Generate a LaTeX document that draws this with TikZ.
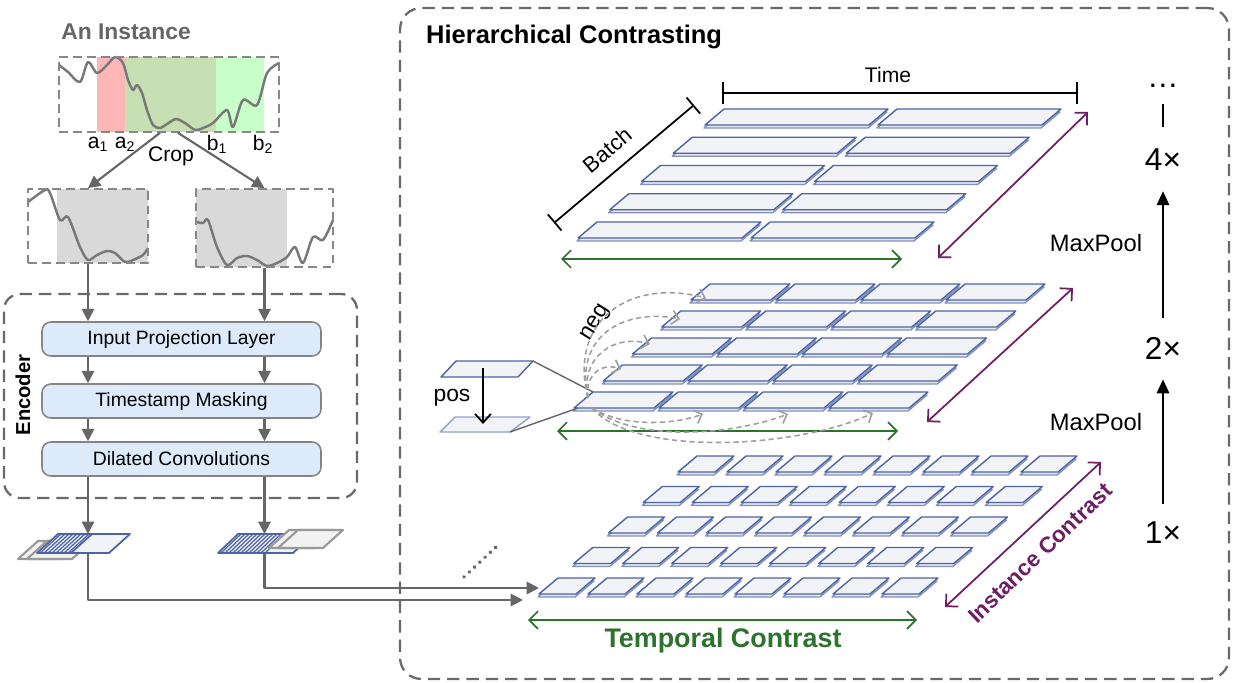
\documentclass[tikz,border=0pt]{standalone}
\usepackage{fontspec}
\setmainfont{Liberation Sans}
\usetikzlibrary{arrows.meta}

\definecolor{linegray}{RGB}{102,102,102}
\definecolor{dashgray}{RGB}{105,105,105}
\definecolor{boxblue}{RGB}{220,234,250}
\definecolor{tileblue}{RGB}{76,100,165}
\definecolor{tilefill}{RGB}{242,243,246}
\definecolor{tileshade}{RGB}{228,230,236}
\definecolor{tgreen}{RGB}{45,115,45}
\definecolor{ipurple}{RGB}{110,30,100}
\definecolor{cropred}{RGB}{255,182,182}
\definecolor{cropboth}{RGB}{198,224,180}
\definecolor{cropgreen}{RGB}{200,255,200}
\definecolor{cropgray}{RGB}{217,217,217}
\definecolor{curvegray}{RGB}{120,120,120}

\tikzset{
  dashbox/.style={draw=dashgray, line width=1.3pt, dash pattern=on 7pt off 4pt, rounded corners=9pt},
  cropbox/.style={draw=dashgray!80, line width=1pt, dash pattern=on 5pt off 3pt},
  layer/.style={draw=linegray!80, fill=boxblue, rounded corners=5pt, line width=0.9pt,
    minimum width=5.58cm, minimum height=0.68cm, font=\fontsize{11}{13}\selectfont},
  flow/.style={draw=linegray, line width=1.2pt, -{Triangle[length=7pt,width=7pt]}},
  curve/.style={draw=curvegray, line width=1.4pt},
  tilefront/.style={draw=tileblue, fill=tilefill, line width=0.8pt},
  tileback/.style={draw=tileblue!70, fill=tileshade, line width=0.8pt},
  tcon/.style={draw=tgreen, line width=1pt, {Straight Barb[length=5pt,width=10pt]}-{Straight Barb[length=5pt,width=10pt]}},
  icon/.style={draw=ipurple, line width=1pt, {Straight Barb[length=5pt,width=10pt]}-{Straight Barb[length=5pt,width=10pt]}},
  negarc/.style={draw=gray!75, dash pattern=on 3pt off 2pt, line width=0.9pt, -{Straight Barb[length=4pt,width=8pt]}},
  pool/.style={line width=1.3pt, -{Triangle[length=8pt,width=7pt]}},
  dimbar/.style={line width=1pt, {Bar[width=12pt]}-{Bar[width=12pt]}},
  marktext/.style={font=\fontsize{12}{14}\selectfont},
  scalelab/.style={font=\fontsize{18}{20}\selectfont},
  emb/.style={draw=tileblue, fill=tilefill, line width=1pt},
  embold/.style={draw=gray!80, fill=gray!10, line width=1.2pt}
}

% one tile: top-left x, top-left y, width (pixels)
\newcommand{\tile}[3]{%
  \filldraw[tileback] (#1-1,#2+3) -- ++(#3,0) -- ++(-19,16) -- ++(-#3,0) -- cycle;
  \filldraw[tilefront] (#1,#2) -- ++(#3,0) -- ++(-19,16) -- ++(-#3,0) -- cycle;
}

\begin{document}
\begin{tikzpicture}[x=0.02cm, y=-0.02cm, line join=round]
\useasboundingbox (0,0) rectangle (1235,683);

% the instance and its two crops
\node[font=\fontsize{13}{15}\selectfont\bfseries, text=linegray] (title1) at (126,32) {An Instance};
\fill[cropred] (97,57) rectangle (125,132);
\fill[cropboth] (125,57) rectangle (216,132);
\fill[cropgreen] (216,57) rectangle (264,132);
\draw[curve] plot[smooth] coordinates {(59,65) (68,72) (80,82) (88,62) (97,73) (107,65) (115,57) (123,63)
  (128,80) (133,90) (137,85) (142,93) (147,110) (153,125) (160,128) (167,124) (176,119) (185,123)
  (195,130) (203,128) (213,123) (227,110) (233,127) (243,100) (257,105) (267,73) (279,63)};
\node[cropbox, minimum width=4.4cm, minimum height=1.5cm] (inst) at (169,94.5) {};
\node[marktext] (a1) at (98,144) {a\textsubscript{1}};
\node[marktext] (a2) at (125,144) {a\textsubscript{2}};
\node[marktext] (b1) at (217,144) {b\textsubscript{1}};
\node[marktext] (b2) at (263,144) {b\textsubscript{2}};
\node[marktext] (crop) at (171,156) {Crop};

\fill[cropgray] (57,189) rectangle (148,263);
\draw[curve] plot[smooth] coordinates {(28,202) (45,190) (50,193) (60,220) (68,217) (80,247) (88,260)
  (97,255) (107,251) (115,253) (125,262) (133,260) (143,255) (148,248)};
\node[cropbox, minimum width=2.4cm, minimum height=1.48cm] (cropL) at (88,226) {};
\fill[cropgray] (196,189) rectangle (287,267);
\draw[curve] plot[smooth] coordinates {(197,222) (203,223) (208,220) (217,247) (227,265) (237,258)
  (247,256) (257,260) (267,266) (277,263) (287,257) (295,247) (303,263) (313,237) (323,240) (333,220)};
\node[cropbox, minimum width=2.74cm, minimum height=1.56cm] (cropR) at (264.5,228) {};

\draw[flow] ([xshift=-0.18cm]inst.south) -- (cropL.north);
\draw[flow] ([xshift=0.18cm]inst.south) -- (cropR.north);

% encoder
\node[dashbox, minimum width=7.06cm, minimum height=4.08cm] (enc) at (180.5,396) {};
\node[rotate=90, font=\fontsize{11.5}{13}\selectfont\bfseries] (enclab) at (23,395) {Encoder};
\node[layer] (proj) at (181.5,339) {Input Projection Layer};
\node[layer] (mask) at (181.5,401) {Timestamp Masking};
\node[layer] (conv) at (181.5,459) {Dilated Convolutions};

\coordinate (embL) at (88,534);
\coordinate (embR) at (264.5,534);
\coordinate (embLb) at (88,553);
\coordinate (embRb) at (264.5,553);
\coordinate (inA) at (523,600);
\coordinate (inB) at (539,588);

\draw[flow] (cropL.south) -- (proj.north -| cropL.south);
\draw[flow] (cropR.south) -- (proj.north -| cropR.south);
\draw[flow] (proj.south -| cropL.south) -- (mask.north -| cropL.south);
\draw[flow] (proj.south -| cropR.south) -- (mask.north -| cropR.south);
\draw[flow] (mask.south -| cropL.south) -- (conv.north -| cropL.south);
\draw[flow] (mask.south -| cropR.south) -- (conv.north -| cropR.south);
\draw[flow] (conv.south -| cropL.south) -- (embL);
\draw[flow] (conv.south -| cropR.south) -- (embR);

% representations of the two crops
\filldraw[embold] (38,541) -- ++(45,0) -- ++(-20,18) -- ++(-45,0) -- cycle;
\filldraw[embold] (47,541) -- ++(45,0) -- ++(-20,18) -- ++(-45,0) -- cycle;
\filldraw[emb] (58,534) -- (130,534) -- (109,553) -- (37,553) -- cycle;
\foreach \h in {61,65,...,89} \draw[tileblue, line width=0.7pt] (\h,534) -- (\h-21,553);
\draw[emb] (92,534) -- (71,553);
\filldraw[emb] (238,534) -- (314,534) -- (293,553) -- (218,553) -- cycle;
\foreach \h in {241,245,...,285} \draw[tileblue, line width=0.7pt] (\h,534) -- (\h-20,553);
\filldraw[embold] (289,530) -- ++(45,0) -- ++(-20,18) -- ++(-45,0) -- cycle;
\filldraw[embold] (298,530) -- ++(45,0) -- ++(-20,18) -- ++(-45,0) -- cycle;

\draw[flow] (embLb) |- (inA);
\draw[flow] (embRb) |- (inB);
\draw[linegray, line width=2.2pt, dash pattern=on 0.1pt off 4pt, line cap=round] (464,577) -- (496,547);

% hierarchical contrasting
\node[dashbox, rounded corners=12pt, minimum width=16.58cm, minimum height=13.42cm] (hier) at (814.5,343.5) {};
\node[anchor=west, font=\fontsize{14.5}{17}\selectfont\bfseries] (title2) at (420,37) {Hierarchical Contrasting};

% 4x level
\foreach \r in {0,...,4}{
  \foreach \c in {0,1}{
    \tile{724-31.75*\r+173*\c}{109+28.25*\r}{164}}}
% 2x level
\foreach \r in {0,...,4}{
  \foreach \c in {0,...,3}{
    \tile{710-29.25*\r+85*\c}{284+27*\r}{80}}}
% 1x level
\foreach \r in {0,...,4}{
  \foreach \c in {0,...,7}{
    \tile{697-34.75*\r+49*\c}{456+30.5*\r}{37}}}

\coordinate (timeL) at (722,93);
\coordinate (timeR) at (1078,93);
\coordinate (batchF) at (554,223);
\coordinate (batchB) at (694,105);
\draw[dimbar] (timeL) -- (timeR);
\draw[dimbar] (batchF) -- (batchB);
\node[marktext] (time) at (888,75) {Time};
\node[rotate=40, font=\fontsize{12.5}{14}\selectfont] (batch) at (607,150) {Batch};

\coordinate (g4a) at (561,259);  \coordinate (g4b) at (902,259);
\coordinate (g2a) at (557,431);  \coordinate (g2b) at (898,431);
\coordinate (g1a) at (528,620);  \coordinate (g1b) at (917,620);
\coordinate (p4a) at (938,258);  \coordinate (p4b) at (1088,112);
\coordinate (p2a) at (927,422);  \coordinate (p2b) at (1073,288);
\coordinate (p1a) at (945,607);  \coordinate (p1b) at (1101,462);
\draw[tcon] (g4a) -- (g4b);
\draw[tcon] (g2a) -- (g2b);
\draw[tcon] (g1a) -- (g1b);
\draw[icon] (p4a) -- (p4b);
\draw[icon] (p2a) -- (p2b);
\draw[icon] (p1a) -- (p1b);
\node[text=tgreen, font=\fontsize{15.3}{17}\selectfont\bfseries] (tlab) at (723,641) {Temporal Contrast};
\node[text=ipurple, rotate=44, font=\fontsize{12.8}{15}\selectfont\bfseries] (ilab) at (1040,553) {Instance Contrast};

% positive pair and negatives
\filldraw[tilefront] (456,361) -- (533,361) -- (518,377) -- (441,377) -- cycle;
\filldraw[tilefront, draw=tileblue!60] (455,417) -- (530,417) -- (510,432) -- (440,432) -- cycle;
\coordinate (posT) at (533,361);
\coordinate (posB) at (510,432);
\coordinate (anchT) at (593,392);
\coordinate (anchB) at (578,408);
\draw[linegray, line width=0.8pt] (posT) -- (anchT);
\draw[linegray, line width=0.8pt] (posB) -- (anchB);
\draw[line width=1pt, -{Straight Barb[length=5pt,width=9pt]}] (483,368) -- (483,424);
\node[font=\fontsize{13}{15}\selectfont] (pos) at (452,398) {pos};
\node[font=\fontsize{13}{15}\selectfont, rotate=58] (neg) at (596,323) {neg};

\coordinate (nU) at (588,398);
\coordinate (nD) at (592,408);
\draw[negarc] (nU) .. controls (568,320) and (630,278) .. (706,298);
\draw[negarc] (nU) .. controls (574,335) and (625,308) .. (680,319);
\draw[negarc] (nU) .. controls (580,356) and (615,334) .. (650,344);
\draw[negarc] (nU) .. controls (585,376) and (600,362) .. (621,369);
\draw[negarc] (nD) .. controls (620,426) and (670,426) .. (703,414);
\draw[negarc] (nD) .. controls (635,442) and (730,436) .. (788,414);
\draw[negarc] (nD) .. controls (635,458) and (800,448) .. (873,413);

% pooling scales
\node[scalelab] (s1) at (1163,533) {1×};
\node[scalelab] (s2) at (1163,348) {2×};
\node[scalelab] (s4) at (1163,160) {4×};
\node[scalelab] (sdots) at (1163,86) {\dots};
\node[font=\fontsize{13.5}{15}\selectfont] (mp1) at (1096,422) {MaxPool};
\node[font=\fontsize{13.5}{15}\selectfont] (mp2) at (1096,243) {MaxPool};
\draw[pool, shorten <=7pt, shorten >=8pt] (s1) -- (s2);
\draw[pool, shorten <=7pt, shorten >=8pt] (s2) -- (s4);
\draw[line width=1pt, shorten <=9pt, shorten >=6pt] (s4) -- (sdots);
\end{tikzpicture}
\end{document}
